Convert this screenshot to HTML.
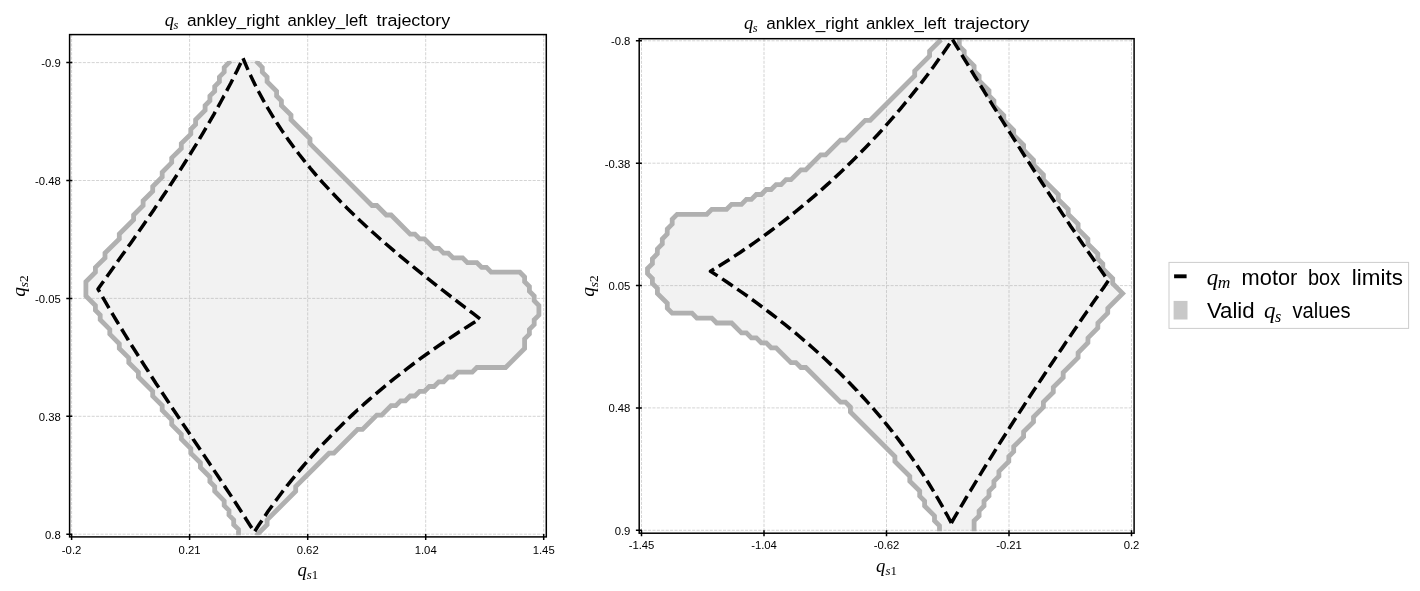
<!DOCTYPE html>
<html lang="en"><head><meta charset="utf-8"><title>q_s trajectory</title>
<style>html,body{margin:0;padding:0;background:#fff}svg{display:block}</style></head>
<body>
<svg width="1420" height="591" viewBox="0 0 1420 591">
<rect width="1420" height="591" fill="#fff"/>
<clipPath id="cl"><rect x="69.6" y="34.6" width="476.7" height="502.3"/></clipPath>
<clipPath id="clg"><rect x="68.6" y="61.1" width="478.1" height="474.1"/></clipPath>
<g clip-path="url(#cl)">
<path d="M252.8,534.2 L238.5,534.2 L238.5,529.4 L233.7,524.7 L233.7,519.9 L229.0,515.1 L229.0,510.4 L224.2,505.6 L224.2,500.9 L214.7,491.3 L214.7,486.6 L209.9,481.8 L209.9,477.0 L200.4,467.5 L200.4,462.7 L190.8,453.2 L190.8,448.5 L181.3,438.9 L181.3,434.2 L171.7,424.6 L171.7,419.9 L162.2,410.3 L162.2,405.6 L152.7,396.1 L152.7,391.3 L138.4,377.0 L138.4,372.2 L128.8,362.7 L128.8,357.9 L119.3,348.4 L119.3,343.7 L109.8,334.1 L109.8,329.4 L100.2,319.8 L100.2,315.1 L95.4,310.3 L95.4,305.5 L85.9,296.0 L85.9,281.7 L95.4,272.2 L95.4,267.4 L105.0,257.9 L105.0,253.1 L119.3,238.9 L119.3,234.1 L133.6,219.8 L133.6,215.0 L143.1,205.5 L143.1,200.7 L152.7,191.2 L152.7,186.5 L162.2,176.9 L162.2,172.2 L171.7,162.6 L171.7,157.9 L181.3,148.4 L181.3,143.6 L190.8,134.1 L190.8,129.3 L195.6,124.5 L195.6,119.8 L205.1,110.2 L205.1,105.5 L209.9,100.7 L209.9,95.9 L214.7,91.2 L214.7,86.4 L219.4,81.7 L219.4,76.9 L224.2,72.1 L224.2,67.4 L229.0,60.0 L233.7,60.0 L257.6,60.0 L262.3,67.4 L262.3,72.1 L267.1,76.9 L267.1,81.7 L276.6,91.2 L276.6,95.9 L281.4,100.7 L281.4,105.5 L291.0,115.0 L291.0,119.8 L310.0,138.8 L310.0,143.6 L372.0,205.5 L376.8,205.5 L386.3,215.0 L391.1,215.0 L410.2,234.1 L414.9,234.1 L419.7,238.9 L424.5,238.9 L434.0,248.4 L438.8,248.4 L443.6,253.1 L448.3,253.2 L453.1,257.9 L457.9,257.9 L462.6,257.9 L467.4,262.7 L472.2,262.7 L476.9,262.7 L481.7,267.4 L486.5,267.4 L491.2,272.2 L496.0,272.2 L519.9,272.2 L524.6,277.0 L524.6,281.7 L529.4,286.5 L529.4,291.3 L534.2,296.0 L534.2,300.8 L538.9,305.5 L538.9,315.1 L534.2,319.8 L534.2,324.6 L529.4,329.4 L529.4,334.1 L524.6,338.9 L524.6,343.7 L524.6,348.4 L505.6,367.5 L476.9,367.5 L472.2,372.2 L457.9,372.2 L453.1,377.0 L448.3,377.0 L443.6,381.8 L438.8,381.8 L434.0,386.5 L429.3,386.5 L424.5,391.3 L419.7,391.3 L414.9,396.0 L410.2,396.0 L405.4,400.8 L400.6,400.8 L395.9,405.6 L391.1,405.6 L381.6,415.1 L376.8,415.1 L362.5,429.4 L357.7,429.4 L333.9,453.2 L329.1,453.2 L295.7,486.6 L295.7,491.3 L267.1,519.9 L267.1,524.7 L257.6,534.2 L252.8,534.2Z" fill="#000" fill-opacity="0.05" stroke="none"/>
<path d="M71.6,34.6V536.9M189.6,34.6V536.9M307.7,34.6V536.9M425.7,34.6V536.9M543.7,34.6V536.9M69.6,62.6H546.3M69.6,180.5H546.3M69.6,298.4H546.3M69.6,416.3H546.3M69.6,534.2H546.3" fill="none" stroke="#b0b0b0" stroke-opacity="0.65" stroke-width="0.85" stroke-dasharray="3.08 1.33"/>
<path d="M238.5,534.2 L238.5,529.4 L233.7,524.7 L233.7,519.9 L229.0,515.1 L229.0,510.4 L224.2,505.6 L224.2,500.9 L214.7,491.3 L214.7,486.6 L209.9,481.8 L209.9,477.0 L200.4,467.5 L200.4,462.7 L190.8,453.2 L190.8,448.5 L181.3,438.9 L181.3,434.2 L171.7,424.6 L171.7,419.9 L162.2,410.3 L162.2,405.6 L152.7,396.1 L152.7,391.3 L138.4,377.0 L138.4,372.2 L128.8,362.7 L128.8,357.9 L119.3,348.4 L119.3,343.7 L109.8,334.1 L109.8,329.4 L100.2,319.8 L100.2,315.1 L95.4,310.3 L95.4,305.5 L85.9,296.0 L85.9,281.7 L95.4,272.2 L95.4,267.4 L105.0,257.9 L105.0,253.1 L119.3,238.9 L119.3,234.1 L133.6,219.8 L133.6,215.0 L143.1,205.5 L143.1,200.7 L152.7,191.2 L152.7,186.5 L162.2,176.9 L162.2,172.2 L171.7,162.6 L171.7,157.9 L181.3,148.4 L181.3,143.6 L190.8,134.1 L190.8,129.3 L195.6,124.5 L195.6,119.8 L205.1,110.2 L205.1,105.5 L209.9,100.7 L209.9,95.9 L214.7,91.2 L214.7,86.4 L219.4,81.7 L219.4,76.9 L224.2,72.1 L224.2,67.4 L229.0,62.6" fill="none" stroke="#b0b0b0" stroke-width="4.8" stroke-linejoin="miter" stroke-linecap="square" clip-path="url(#clg)"/>
<path d="M257.6,62.6 L262.3,67.4 L262.3,72.1 L267.1,76.9 L267.1,81.7 L276.6,91.2 L276.6,95.9 L281.4,100.7 L281.4,105.5 L291.0,115.0 L291.0,119.8 L310.0,138.8 L310.0,143.6 L372.0,205.5 L376.8,205.5 L386.3,215.0 L391.1,215.0 L410.2,234.1 L414.9,234.1 L419.7,238.9 L424.5,238.9 L434.0,248.4 L438.8,248.4 L443.6,253.1 L448.3,253.2 L453.1,257.9 L457.9,257.9 L462.6,257.9 L467.4,262.7 L472.2,262.7 L476.9,262.7 L481.7,267.4 L486.5,267.4 L491.2,272.2 L496.0,272.2 L519.9,272.2 L524.6,277.0 L524.6,281.7 L529.4,286.5 L529.4,291.3 L534.2,296.0 L534.2,300.8 L538.9,305.5 L538.9,315.1 L534.2,319.8 L534.2,324.6 L529.4,329.4 L529.4,334.1 L524.6,338.9 L524.6,343.7 L524.6,348.4 L505.6,367.5 L476.9,367.5 L472.2,372.2 L457.9,372.2 L453.1,377.0 L448.3,377.0 L443.6,381.8 L438.8,381.8 L434.0,386.5 L429.3,386.5 L424.5,391.3 L419.7,391.3 L414.9,396.0 L410.2,396.0 L405.4,400.8 L400.6,400.8 L395.9,405.6 L391.1,405.6 L381.6,415.1 L376.8,415.1 L362.5,429.4 L357.7,429.4 L333.9,453.2 L329.1,453.2 L295.7,486.6 L295.7,491.3 L267.1,519.9 L267.1,524.7 L257.6,534.2" fill="none" stroke="#b0b0b0" stroke-width="4.8" stroke-linejoin="miter" stroke-linecap="square" clip-path="url(#clg)"/>
<path d="M243.0,58.3 L246.8,67.1 L248.0,69.9M250.3,74.9 L250.7,75.7 L254.8,84.2 L255.8,86.2M258.3,91.1 L259.1,92.5 L263.5,100.7 L264.4,102.2M267.1,106.9 L268.1,108.7 L272.9,116.6 L273.6,117.8M276.6,122.4 L277.8,124.3 L282.8,131.9 L283.6,132.9M286.7,137.4 L288.0,139.4 L293.4,146.7 L294.1,147.7M297.4,152.0 L298.9,154.0 L304.5,161.1 L305.2,162.0M308.7,166.2 L310.2,168.1 L316.0,175.0 L316.8,175.9M320.4,180.0 L322.0,181.8 L328.1,188.4 L328.9,189.3M332.7,193.3 L334.3,195.0 L340.5,201.5 L341.4,202.4M345.3,206.3 L346.9,207.9 L353.4,214.3 L354.3,215.2M358.3,218.9 L359.9,220.5 L366.6,226.7 L367.5,227.6M371.6,231.2 L373.3,232.8 L380.0,238.8 L381.0,239.6M385.1,243.2 L386.9,244.8 L393.8,250.7 L394.7,251.5M398.9,255.0 L400.8,256.6 L407.8,262.4 L408.6,263.1M412.9,266.5 L414.9,268.2 L422.0,273.9 L422.7,274.5M427.0,277.9 L429.2,279.6 L436.4,285.3 L436.9,285.7M441.2,289.1 L443.6,290.9 L450.8,296.5 L451.2,296.8M455.6,300.1 L458.1,302.1 L465.4,307.7 L465.6,307.8M469.9,311.1 L472.7,313.2 L480.0,318.8M475.3,321.7 L473.1,323.1 L466.2,327.4 L464.4,328.6M459.8,331.6 L459.4,331.8 L452.7,336.2 L449.1,338.6M444.5,341.7 L439.3,345.3 L433.9,349.0M429.4,352.2 L426.1,354.5 L419.6,359.2 L419.0,359.7M414.6,363.0 L413.2,364.0 L406.8,368.9 L404.3,370.8M400.0,374.2 L394.2,378.7 L389.9,382.2M385.6,385.7 L381.8,388.8 L375.8,393.9M371.6,397.5 L369.7,399.1 L363.7,404.4 L362.0,406.0M357.9,409.7 L357.8,409.7 L352.0,415.1 L348.5,418.5M344.5,422.3 L340.5,426.2 L335.3,431.3M331.4,435.2 L329.3,437.5 L323.7,443.2 L322.6,444.5M318.8,448.5 L318.3,449.0 L312.9,455.0 L310.2,458.1M306.5,462.2 L302.4,467.0 L298.2,472.0M294.7,476.3 L292.2,479.3 L287.2,485.6 L286.7,486.3M283.3,490.7 L282.2,492.0 L277.4,498.5 L275.6,500.9M272.3,505.4 L267.9,511.6 L265.0,515.9M261.9,520.5 L258.8,525.1 L254.8,531.2M251.8,528.0 L250.3,525.7 L246.3,519.5 L244.8,517.0M241.7,512.3 L238.3,507.0 L234.6,501.3M231.5,496.6 L230.2,494.6 L226.1,488.5 L224.3,485.7M221.2,480.9 L217.9,476.1 L213.9,470.1M210.8,465.4 L209.7,463.8 L205.6,457.6 L203.5,454.5M200.3,449.8 L197.3,445.3 L193.2,439.2 L193.1,438.9M189.9,434.2 L189.1,433.0 L185.0,426.9 L182.6,423.4M179.5,418.7 L176.7,414.5 L172.6,408.4 L172.2,407.8M169.1,403.1 L168.5,402.2 L164.4,396.0 L161.9,392.2M158.8,387.5 L156.2,383.7 L152.2,377.5 L151.6,376.5M148.5,371.8 L148.2,371.2 L144.1,365.0 L141.4,360.8M138.4,356.0 L136.2,352.5 L132.2,346.3 L131.4,345.0M128.4,340.2 L128.3,340.0 L124.4,333.7 L121.6,329.0M118.6,324.2 L116.7,321.0 L112.9,314.7 L111.9,313.0M109.0,308.1 L105.4,301.9 L102.5,296.8M99.7,291.9 L98.0,289.0 L102.1,283.3 L103.6,281.2M106.8,276.7 L110.2,271.9 L114.3,266.2 L114.3,266.2M117.5,261.7 L118.3,260.5 L122.4,254.8 L125.0,251.2M128.2,246.6 L130.5,243.4 L134.5,237.7 L135.6,236.1M138.8,231.5 L142.5,226.2 L146.1,220.9M149.3,216.3 L150.4,214.7 L154.4,208.9 L156.5,205.7M159.7,201.1 L162.2,197.3 L166.1,191.5 L166.8,190.4M169.9,185.8 L169.9,185.7 L173.8,179.8 L176.9,175.0M180.0,170.3 L181.4,168.1 L185.1,162.2 L186.9,159.4M189.8,154.7 L192.5,150.4 L196.2,144.4 L196.6,143.7M199.5,139.0 L199.8,138.4 L203.4,132.4 L206.0,127.9M208.8,123.1 L210.4,120.4 L213.9,114.3 L215.2,111.9M217.9,107.1 L220.7,102.0 L224.0,95.9 L224.1,95.8M226.7,90.8 L227.3,89.7 L230.6,83.5 L232.6,79.4M235.1,74.4 L236.9,71.0 L240.0,64.6 L240.8,62.9" fill="none" stroke="#000" stroke-width="3.5" stroke-linejoin="round" stroke-linecap="butt"/>
</g>
<rect x="69.6" y="34.6" width="476.7" height="502.3" fill="none" stroke="#000" stroke-width="1.5"/>
<path d="M71.6,533.9v6M189.6,533.9v6M307.7,533.9v6M425.7,533.9v6M543.7,533.9v6M66.3,62.6h6M66.3,180.5h6M66.3,298.4h6M66.3,416.3h6M66.3,534.2h6" fill="none" stroke="#000" stroke-width="1.5"/>
<g font-family="'Liberation Sans', sans-serif" font-size="11.3" fill="#000">
<text x="71.6" y="553.5" text-anchor="middle">-0.2</text>
<text x="189.6" y="553.5" text-anchor="middle">0.21</text>
<text x="307.7" y="553.5" text-anchor="middle">0.62</text>
<text x="425.7" y="553.5" text-anchor="middle">1.04</text>
<text x="543.7" y="553.5" text-anchor="middle">1.45</text>
<text x="60.8" y="67.1" text-anchor="end">-0.9</text>
<text x="60.8" y="185.0" text-anchor="end">-0.48</text>
<text x="60.8" y="302.9" text-anchor="end">-0.05</text>
<text x="60.8" y="420.8" text-anchor="end">0.38</text>
<text x="60.8" y="538.7" text-anchor="end">0.8</text>
</g>
<clipPath id="cr"><rect x="639.2" y="38.7" width="494.9" height="494.5"/></clipPath>
<clipPath id="crg"><rect x="638.5" y="39.3" width="496.0" height="492.0"/></clipPath>
<g clip-path="url(#cr)">
<path d="M969.2,530.7 L939.5,530.7 L939.5,525.8 L934.5,520.8 L934.5,515.9 L924.6,506.0 L924.6,501.0 L919.7,496.1 L919.7,491.1 L909.8,481.3 L909.8,476.3 L894.9,461.5 L894.9,456.5 L850.4,412.0 L850.4,407.1 L845.4,402.1 L840.5,402.1 L805.8,367.5 L800.9,367.5 L795.9,362.6 L791.0,362.6 L776.1,347.8 L771.2,347.8 L766.2,342.8 L761.3,342.8 L756.3,337.9 L751.4,337.9 L746.4,332.9 L741.5,332.9 L731.6,323.0 L726.6,323.0 L716.7,323.0 L711.8,318.1 L706.8,318.1 L696.9,318.1 L692.0,313.1 L687.0,313.1 L672.2,313.1 L667.3,308.2 L667.3,303.3 L657.4,293.4 L657.4,288.4 L652.4,283.5 L652.4,278.5 L647.5,273.6 L647.5,268.6 L652.4,263.7 L652.4,258.8 L657.3,253.8 L657.4,248.9 L662.3,243.9 L662.3,239.0 L667.2,234.0 L667.3,229.1 L672.2,224.1 L672.2,219.2 L677.1,214.3 L706.8,214.3 L711.8,209.3 L726.6,209.3 L731.6,204.4 L741.5,204.4 L746.4,199.4 L751.4,199.4 L756.3,194.5 L761.3,194.5 L766.2,189.5 L771.2,189.5 L776.1,184.6 L781.1,184.6 L786.0,179.6 L791.0,179.6 L800.9,169.8 L805.8,169.8 L820.7,154.9 L825.6,154.9 L840.5,140.1 L845.4,140.1 L865.2,120.3 L870.2,120.3 L914.7,75.8 L914.7,70.9 L929.6,56.0 L929.6,51.1 L939.5,41.2 L944.4,41.2 L959.3,41.2 L959.3,46.1 L964.2,51.1 L964.2,56.0 L974.1,65.9 L974.1,70.9 L979.1,75.8 L979.1,80.8 L989.0,90.6 L989.0,95.6 L993.9,100.5 L993.9,105.5 L1003.8,115.4 L1003.8,120.3 L1013.7,130.2 L1013.7,135.1 L1023.6,145.0 L1023.6,150.0 L1033.5,159.9 L1033.5,164.8 L1043.4,174.7 L1043.4,179.6 L1058.3,194.5 L1058.3,199.4 L1068.2,209.3 L1068.2,214.3 L1078.1,224.1 L1078.1,229.1 L1087.9,239.0 L1087.9,243.9 L1097.8,253.8 L1097.8,258.8 L1102.8,263.7 L1102.8,268.6 L1112.7,278.5 L1112.7,283.5 L1122.6,293.4 L1107.8,308.2 L1107.7,313.1 L1097.9,323.0 L1097.8,328.0 L1088.0,337.9 L1087.9,342.8 L1078.1,352.7 L1078.1,357.6 L1063.2,372.5 L1063.2,377.4 L1053.3,387.3 L1053.3,392.3 L1043.4,402.1 L1043.4,407.1 L1033.5,417.0 L1033.5,421.9 L1023.6,431.8 L1023.6,436.8 L1013.7,446.6 L1013.7,451.6 L1008.8,456.5 L1008.8,461.5 L998.9,471.4 L998.9,476.3 L993.9,481.3 L993.9,486.2 L989.0,491.1 L989.0,496.1 L984.0,501.0 L984.0,506.0 L979.1,510.9 L979.1,515.9 L974.1,520.8 L974.1,525.8 L974.1,530.7 L969.2,530.7Z" fill="#000" fill-opacity="0.05" stroke="none"/>
<path d="M641.5,38.7V533.2M764.0,38.7V533.2M886.5,38.7V533.2M1009.0,38.7V533.2M1131.5,38.7V533.2M639.2,40.8H1134.1M639.2,163.2H1134.1M639.2,285.6H1134.1M639.2,407.9H1134.1M639.2,530.3H1134.1" fill="none" stroke="#b0b0b0" stroke-opacity="0.65" stroke-width="0.85" stroke-dasharray="3.08 1.33"/>
<path d="M939.5,530.7 L939.5,525.8 L934.5,520.8 L934.5,515.9 L924.6,506.0 L924.6,501.0 L919.7,496.1 L919.7,491.1 L909.8,481.3 L909.8,476.3 L894.9,461.5 L894.9,456.5 L850.4,412.0 L850.4,407.1 L845.4,402.1 L840.5,402.1 L805.8,367.5 L800.9,367.5 L795.9,362.6 L791.0,362.6 L776.1,347.8 L771.2,347.8 L766.2,342.8 L761.3,342.8 L756.3,337.9 L751.4,337.9 L746.4,332.9 L741.5,332.9 L731.6,323.0 L726.6,323.0 L716.7,323.0 L711.8,318.1 L706.8,318.1 L696.9,318.1 L692.0,313.1 L687.0,313.1 L672.2,313.1 L667.3,308.2 L667.3,303.3 L657.4,293.4 L657.4,288.4 L652.4,283.5 L652.4,278.5 L647.5,273.6 L647.5,268.6 L652.4,263.7 L652.4,258.8 L657.3,253.8 L657.4,248.9 L662.3,243.9 L662.3,239.0 L667.2,234.0 L667.3,229.1 L672.2,224.1 L672.2,219.2 L677.1,214.3 L706.8,214.3 L711.8,209.3 L726.6,209.3 L731.6,204.4 L741.5,204.4 L746.4,199.4 L751.4,199.4 L756.3,194.5 L761.3,194.5 L766.2,189.5 L771.2,189.5 L776.1,184.6 L781.1,184.6 L786.0,179.6 L791.0,179.6 L800.9,169.8 L805.8,169.8 L820.7,154.9 L825.6,154.9 L840.5,140.1 L845.4,140.1 L865.2,120.3 L870.2,120.3 L914.7,75.8 L914.7,70.9 L929.6,56.0 L929.6,51.1 L939.5,41.2" fill="none" stroke="#b0b0b0" stroke-width="4.8" stroke-linejoin="miter" stroke-linecap="square" clip-path="url(#crg)"/>
<path d="M959.3,41.2 L959.3,46.1 L964.2,51.1 L964.2,56.0 L974.1,65.9 L974.1,70.9 L979.1,75.8 L979.1,80.8 L989.0,90.6 L989.0,95.6 L993.9,100.5 L993.9,105.5 L1003.8,115.4 L1003.8,120.3 L1013.7,130.2 L1013.7,135.1 L1023.6,145.0 L1023.6,150.0 L1033.5,159.9 L1033.5,164.8 L1043.4,174.7 L1043.4,179.6 L1058.3,194.5 L1058.3,199.4 L1068.2,209.3 L1068.2,214.3 L1078.1,224.1 L1078.1,229.1 L1087.9,239.0 L1087.9,243.9 L1097.8,253.8 L1097.8,258.8 L1102.8,263.7 L1102.8,268.6 L1112.7,278.5 L1112.7,283.5 L1122.6,293.4 L1107.8,308.2 L1107.7,313.1 L1097.9,323.0 L1097.8,328.0 L1088.0,337.9 L1087.9,342.8 L1078.1,352.7 L1078.1,357.6 L1063.2,372.5 L1063.2,377.4 L1053.3,387.3 L1053.3,392.3 L1043.4,402.1 L1043.4,407.1 L1033.5,417.0 L1033.5,421.9 L1023.6,431.8 L1023.6,436.8 L1013.7,446.6 L1013.7,451.6 L1008.8,456.5 L1008.8,461.5 L998.9,471.4 L998.9,476.3 L993.9,481.3 L993.9,486.2 L989.0,491.1 L989.0,496.1 L984.0,501.0 L984.0,506.0 L979.1,510.9 L979.1,515.9 L974.1,520.8 L974.1,525.8 L974.1,530.7" fill="none" stroke="#b0b0b0" stroke-width="4.8" stroke-linejoin="miter" stroke-linecap="square" clip-path="url(#crg)"/>
<path d="M952.5,39.5 L956.3,45.8 L959.0,50.2M961.8,54.9 L963.9,58.4 L967.8,64.7 L968.3,65.6M971.1,70.2 L971.6,71.0 L975.4,77.3 L977.7,80.9M980.5,85.5 L983.2,89.8 L987.0,96.1 L987.1,96.2M989.9,100.8 L990.9,102.4 L994.8,108.6 L996.6,111.4M999.4,116.0 L1002.6,121.1 L1006.1,126.7M1009.0,131.2 L1010.5,133.6 L1014.4,139.8 L1015.7,141.8M1018.6,146.4 L1022.3,152.2 L1025.3,157.0M1028.3,161.5 L1030.3,164.6 L1034.2,170.8 L1035.1,172.1M1038.0,176.6 L1038.3,177.0 L1042.3,183.2 L1044.9,187.1M1047.8,191.7 L1050.3,195.5 L1054.4,201.6 L1054.7,202.1M1057.7,206.6 L1058.5,207.8 L1062.5,213.9 L1064.7,217.1M1067.7,221.6 L1070.7,226.2 L1074.7,232.0M1077.7,236.5 L1079.0,238.4 L1083.1,244.5 L1084.8,246.8M1087.8,251.3 L1091.5,256.6 L1094.9,261.6M1098.0,266.1 L1099.9,268.7 L1104.1,274.8 L1105.2,276.4M1108.3,280.8 L1108.3,280.8 L1104.1,286.9 L1101.0,291.3M1097.8,295.9 L1095.6,299.1 L1091.4,305.1 L1090.5,306.5M1087.4,311.0 L1087.2,311.2 L1083.0,317.3 L1080.1,321.6M1077.0,326.2 L1074.7,329.6 L1070.5,335.7 L1069.7,336.8M1066.6,341.4 L1066.3,341.8 L1062.2,347.9 L1059.4,352.0M1056.3,356.6 L1053.9,360.2 L1049.8,366.3 L1049.1,367.3M1046.1,371.9 L1045.7,372.5 L1041.6,378.7 L1039.0,382.6M1035.9,387.2 L1033.4,391.0 L1029.3,397.2 L1028.8,398.0M1025.8,402.6 L1025.3,403.4 L1021.3,409.6 L1018.8,413.4M1015.8,418.0 L1013.2,422.0 L1009.2,428.3 L1008.8,428.9M1005.9,433.5 L1005.3,434.5 L1001.3,440.7 L999.0,444.4M996.0,449.1 L993.4,453.3 L989.5,459.6 L989.2,460.0M986.3,464.7 L985.6,465.8 L981.7,472.1 L979.6,475.6M976.7,480.4 L974.0,484.8 L970.2,491.1 L970.0,491.3M967.2,496.1 L966.3,497.5 L962.6,503.8 L960.6,507.1M957.8,511.9 L955.0,516.6 L951.3,523.0M951.3,523.0 L947.0,514.8 L945.3,511.9M942.7,507.1 L942.5,506.7 L937.9,498.7 L936.4,496.1M933.6,491.4 L933.3,490.8 L928.5,483.0 L927.0,480.7M924.0,476.1 L923.6,475.3 L918.6,467.8 L917.1,465.5M914.0,461.0 L913.5,460.3 L908.3,452.9 L906.7,450.7M903.5,446.3 L903.0,445.6 L897.6,438.4 L895.8,436.2M892.5,431.9 L892.1,431.3 L886.5,424.3 L884.6,422.0M881.1,417.8 L880.8,417.4 L875.0,410.6 L872.9,408.2M869.3,404.1 L869.1,403.9 L863.1,397.3 L860.8,394.8M857.0,390.8 L857.0,390.7 L850.8,384.3 L848.3,381.6M844.4,377.8 L838.2,371.6 L835.4,368.9M831.5,365.1 L825.3,359.3 L822.3,356.5M818.2,352.8 L812.0,347.2 L808.8,344.4M804.6,340.8 L798.4,335.5 L795.0,332.7M790.7,329.2 L784.5,324.1 L780.9,321.3M776.6,317.9 L770.2,313.0 L766.6,310.3M762.2,307.0 L755.7,302.2 L752.0,299.5M747.6,296.3 L740.9,291.6 L737.2,289.1M732.7,286.0 L725.8,281.3 L722.2,278.9M717.6,275.9 L710.5,271.3 L714.1,269.1M718.7,266.2 L725.4,262.0 L729.5,259.4M734.1,256.4 L740.1,252.5 L744.7,249.3M749.3,246.2 L754.4,242.6 L759.7,238.9M764.2,235.7 L768.5,232.5 L774.4,228.1M778.8,224.8 L782.3,222.1 L788.9,217.0M793.2,213.5 L795.9,211.4 L802.6,205.9 L803.1,205.5M807.3,202.0 L809.2,200.4 L815.7,194.8 L817.0,193.7M821.2,190.0 L822.2,189.1 L828.6,183.4 L830.6,181.5M834.7,177.8 L834.9,177.6 L841.2,171.7 L844.0,169.0M847.9,165.2 L853.5,159.7 L857.0,156.3M860.9,152.3 L865.6,147.5 L869.7,143.2M873.5,139.1 L877.4,135.0 L882.1,129.8M885.8,125.7 L888.9,122.2 L894.2,116.1M897.8,111.9 L900.2,109.1 L905.7,102.4 L906.0,102.1M909.4,97.8 L911.2,95.7 L916.6,88.9 L917.4,87.9M920.8,83.5 L921.9,82.1 L927.2,75.2 L928.5,73.4M931.8,68.9 L932.4,68.2 L937.5,61.1 L939.2,58.6M942.4,54.1 L942.6,54.0 L947.6,46.8 L949.7,43.6" fill="none" stroke="#000" stroke-width="3.5" stroke-linejoin="round" stroke-linecap="butt"/>
</g>
<rect x="639.2" y="38.7" width="494.9" height="494.5" fill="none" stroke="#000" stroke-width="1.5"/>
<path d="M641.5,530.2v6M764.0,530.2v6M886.5,530.2v6M1009.0,530.2v6M1131.5,530.2v6M635.9,40.8h6M635.9,163.2h6M635.9,285.6h6M635.9,407.9h6M635.9,530.3h6" fill="none" stroke="#000" stroke-width="1.5"/>
<g font-family="'Liberation Sans', sans-serif" font-size="11.3" fill="#000">
<text x="641.5" y="549.2" text-anchor="middle">-1.45</text>
<text x="764.0" y="549.2" text-anchor="middle">-1.04</text>
<text x="886.5" y="549.2" text-anchor="middle">-0.62</text>
<text x="1009.0" y="549.2" text-anchor="middle">-0.21</text>
<text x="1131.5" y="549.2" text-anchor="middle">0.2</text>
<text x="630.4" y="45.3" text-anchor="end">-0.8</text>
<text x="630.4" y="167.7" text-anchor="end">-0.38</text>
<text x="630.4" y="290.1" text-anchor="end">0.05</text>
<text x="630.4" y="412.4" text-anchor="end">0.48</text>
<text x="630.4" y="534.8" text-anchor="end">0.9</text>
</g>
<text x="164.7" y="25.6" font-family="'Liberation Serif', serif" font-size="18.5" font-style="italic">q<tspan font-size="12.5" dy="3" dx="-0.5">s</tspan></text><text x="186.9" y="25.6" font-family="'Liberation Sans', sans-serif" font-size="17.2" textLength="92.7" lengthAdjust="spacingAndGlyphs">ankley_right</text><text x="287.5" y="25.6" font-family="'Liberation Sans', sans-serif" font-size="17.2" textLength="80.0" lengthAdjust="spacingAndGlyphs">ankley_left</text><text x="376.5" y="25.6" font-family="'Liberation Sans', sans-serif" font-size="17.2" textLength="73.7" lengthAdjust="spacingAndGlyphs">trajectory</text>
<text x="744.0" y="28.9" font-family="'Liberation Serif', serif" font-size="18.5" font-style="italic">q<tspan font-size="12.5" dy="3" dx="-0.5">s</tspan></text><text x="766.2" y="28.9" font-family="'Liberation Sans', sans-serif" font-size="17.2" textLength="92.3" lengthAdjust="spacingAndGlyphs">anklex_right</text><text x="865.9" y="28.9" font-family="'Liberation Sans', sans-serif" font-size="17.2" textLength="80.4" lengthAdjust="spacingAndGlyphs">anklex_left</text><text x="954.2" y="28.9" font-family="'Liberation Sans', sans-serif" font-size="17.2" textLength="75.1" lengthAdjust="spacingAndGlyphs">trajectory</text>
<text x="297.5" y="575.5" font-family="'Liberation Serif', serif" font-size="19.5" font-style="italic" textLength="20.8" lengthAdjust="spacingAndGlyphs">q<tspan font-size="13.4" dy="3.2">s</tspan><tspan font-size="13.4" font-style="normal">1</tspan></text>
<text x="876.1" y="571.7" font-family="'Liberation Serif', serif" font-size="19.5" font-style="italic" textLength="20.8" lengthAdjust="spacingAndGlyphs">q<tspan font-size="13.4" dy="3.2">s</tspan><tspan font-size="13.4" font-style="normal">1</tspan></text>
<text transform="translate(25.2 296.8) rotate(-90)" font-family="'Liberation Serif', serif" font-size="19.5" font-style="italic" textLength="21.4" lengthAdjust="spacingAndGlyphs">q<tspan font-size="13.4" dy="3.2">s</tspan><tspan font-size="13.4" font-style="normal">2</tspan></text>
<text transform="translate(594.4 296.8) rotate(-90)" font-family="'Liberation Serif', serif" font-size="19.5" font-style="italic" textLength="21.4" lengthAdjust="spacingAndGlyphs">q<tspan font-size="13.4" dy="3.2">s</tspan><tspan font-size="13.4" font-style="normal">2</tspan></text>
<rect x="1169" y="262.4" width="239.6" height="66" fill="#fff" stroke="#ccc" stroke-width="1"/>
<path d="M1174.1,276.3H1186.6" stroke="#000" stroke-width="3.9" fill="none"/>
<rect x="1173.6" y="300.9" width="13.9" height="18.6" fill="#c8c8c8"/>
<text x="1206.7" y="284.7" font-family="'Liberation Serif', serif" font-size="23" font-style="italic">q<tspan font-size="17.5" dy="3.6" dx="-0.5">m</tspan></text>
<text x="1241.6" y="284.7" font-family="'Liberation Sans', sans-serif" font-size="22.5" textLength="55.8" lengthAdjust="spacingAndGlyphs">motor</text><text x="1308.0" y="284.7" font-family="'Liberation Sans', sans-serif" font-size="22.5" textLength="32.1" lengthAdjust="spacingAndGlyphs">box</text><text x="1351.8" y="284.7" font-family="'Liberation Sans', sans-serif" font-size="22.5" textLength="51.1" lengthAdjust="spacingAndGlyphs">limits</text>
<text x="1206.9" y="318" font-family="'Liberation Sans', sans-serif" font-size="22.5" textLength="47.7" lengthAdjust="spacingAndGlyphs">Valid</text><text x="1292.4" y="318" font-family="'Liberation Sans', sans-serif" font-size="22.5" textLength="58.2" lengthAdjust="spacingAndGlyphs">values</text>
<text x="1264.1" y="318" font-family="'Liberation Serif', serif" font-size="23" font-style="italic">q<tspan font-size="16" dy="3.6" dx="-0.5">s</tspan></text>
</svg>
</body></html>
